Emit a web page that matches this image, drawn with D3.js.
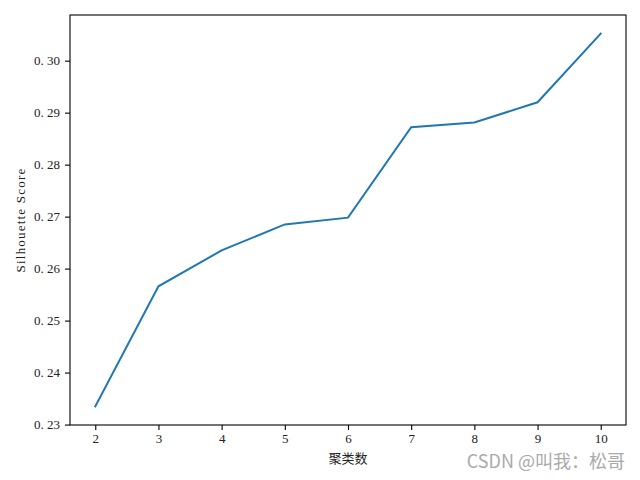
<!DOCTYPE html>
<html>
<head>
  <meta charset="UTF-8">
  <title>Silhouette Score</title>
  <style>
    body { margin: 0; background: #fff; }
    svg text { fill: #222; }
  </style>
</head>
<body>
  <script src="https://cdn.jsdelivr.net/npm/d3@7"></script>
  <script>
    const width = 640,
      height = 480

    // data
    const clusters = [2, 3, 4, 5, 6, 7, 8, 9, 10]
    const scores = [0.2335, 0.2566, 0.2635, 0.2685, 0.2698, 0.2872, 0.2881, 0.2920, 0.3052]
    const yTicks = [0.23, 0.24, 0.25, 0.26, 0.27, 0.28, 0.29, 0.30]

    const box = { left: 70, right: 626, top: 15, bottom: 425 }
    const serifFont = '"Liberation Serif", "DejaVu Serif", serif'

    const svg = d3.select('body')
      .append('svg')
      .attr('width', width)
      .attr('height', height)

    // matplotlib style 5% margins
    const xPad = (d3.max(clusters) - d3.min(clusters)) * 0.05
    const yPad = (d3.max(scores) - d3.min(scores)) * 0.05

    const xScale = d3.scaleLinear()
      .domain([d3.min(clusters) - xPad, d3.max(clusters) + xPad])
      .range([box.left, box.right])

    const yScale = d3.scaleLinear()
      .domain([d3.min(scores) - yPad, d3.max(scores) + yPad])
      .range([box.bottom, box.top])

    const xAxis = d3.axisBottom(xScale)
      .tickValues(clusters)
      .tickFormat(d3.format('d'))
      .tickSizeOuter(0)
      .tickSize(5)
      .tickPadding(4)

    const yAxis = d3.axisLeft(yScale)
      .tickValues(yTicks)
      .tickFormat(d => d3.format('.2f')(d).replace('.', '. '))
      .tickSizeOuter(0)
      .tickSize(5)
      .tickPadding(5)

    svg.append('g')
      .attr('transform', `translate(0, ${box.bottom})`)
      .call(xAxis)
      .call(g => g.select('.domain').remove())
      .selectAll('text')
      .attr('font-family', serifFont)
      .attr('font-size', 13)
      .attr('fill', '#222')

    svg.append('g')
      .attr('transform', `translate(${box.left}, 0)`)
      .call(yAxis)
      .call(g => g.select('.domain').remove())
      .selectAll('text')
      .attr('font-family', serifFont)
      .attr('font-size', 13)
      .attr('fill', '#222')
      .style('white-space', 'pre')

    svg.selectAll('.tick line')
      .attr('stroke', '#000')
      .attr('stroke-width', 1.1)

    const line = d3.line()
      .x((d, i) => xScale(clusters[i]))
      .y(d => yScale(d))

    svg.append('path')
      .datum(scores)
      .attr('d', line)
      .attr('fill', 'none')
      .attr('stroke', '#1f77b4')
      .attr('stroke-width', 2)
      .attr('stroke-linecap', 'square')

    // frame
    svg.append('rect')
      .attr('x', box.left)
      .attr('y', box.top)
      .attr('width', box.right - box.left)
      .attr('height', box.bottom - box.top)
      .attr('fill', 'none')
      .attr('stroke', '#000')
      .attr('stroke-width', 1.1)

    svg.append('text')
      .attr('x', (box.left + box.right) / 2)
      .attr('y', 463)
      .attr('text-anchor', 'middle')
      .attr('font-family', '"Noto Sans CJK SC", sans-serif')
      .attr('font-size', 13)
      .text('聚类数')

    svg.append('text')
      .attr('transform', `translate(25, ${(box.top + box.bottom) / 2}) rotate(-90)`)
      .attr('text-anchor', 'middle')
      .attr('font-family', serifFont)
      .attr('font-size', 13)
      .attr('letter-spacing', 1.2)
      .text('Silhouette Score')

    // watermark
    svg.append('text')
      .attr('x', 625)
      .attr('y', 468)
      .attr('text-anchor', 'end')
      .attr('font-family', '"Noto Sans CJK SC", sans-serif')
      .attr('font-size', 18)
      .style('fill', '#aaa')
      .text('CSDN @叫我：松哥')
  </script>
</body>
</html>
